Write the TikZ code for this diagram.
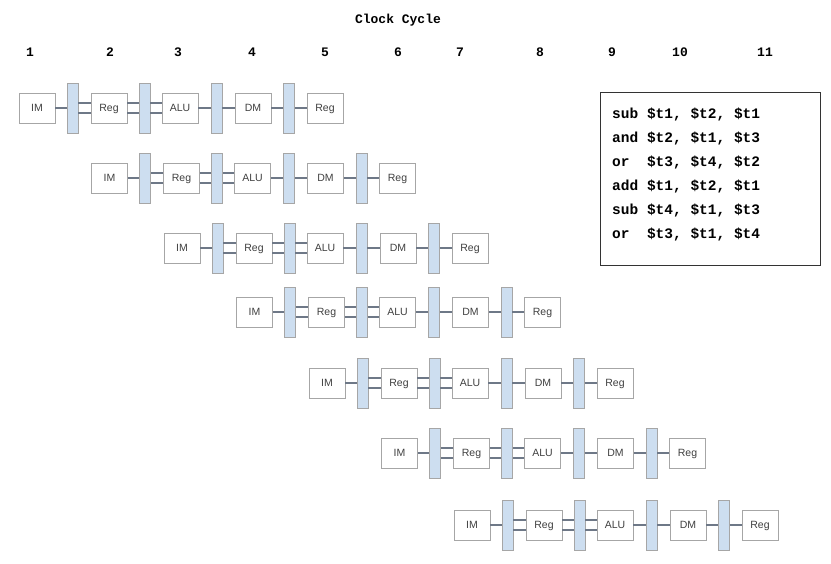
\documentclass[tikz,border=0pt]{standalone}
\usepackage{fontspec}
\setmainfont{Liberation Sans}
\newfontfamily\mono{Liberation Mono}
\begin{document}
\begin{tikzpicture}[x=1pt,y=-1pt,
  box/.style={draw=gray!70,line width=0.8pt,fill=white,minimum width=36pt,minimum height=30pt,inner sep=0pt,text height=7.5pt,text depth=0pt,font=\fontsize{10.5}{10.5}\selectfont,text=black!75},
  bar/.style={draw=gray!70,line width=0.8pt,fill={rgb,255:red,205;green,222;blue,240},minimum width=11pt,minimum height=50pt,inner sep=0pt},
  wire/.style={draw={rgb,255:red,110;green,120;blue,135},line width=1.1pt},
  hdr/.style={font=\mono\bfseries\fontsize{13}{13}\selectfont}]
\useasboundingbox (0,0) rectangle (831,564);
\node[hdr] at (398,20) {Clock Cycle};
\foreach \n/\x in {1/30,2/110,3/178,4/252,5/325,6/398,7/460,8/540,9/612,10/680,11/765}
  \node[hdr] (h\n) at (\x,52) {\n};
\foreach \r/\y in {0/108,1/178,2/248,3/312,4/383,5/453,6/525}{
  \pgfmathsetmacro{\xo}{37+72.5*\r}
  \begin{scope}[shift={(\xo,\y)}]
  \node[box] (im\r) at (0,0) {IM};
  \node[bar] (b1\r) at (35.5,0) {};
  \node[box] (rg\r) at (72,0) {Reg};
  \node[bar] (b2\r) at (107.5,0) {};
  \node[box] (al\r) at (143,0) {ALU};
  \node[bar] (b3\r) at (179.5,0) {};
  \node[box] (dm\r) at (216,0) {DM};
  \node[bar] (b4\r) at (252,0) {};
  \node[box] (wb\r) at (288,0) {Reg};
  \draw[wire] (im\r) -- (b1\r);
  \draw[wire] ([yshift=-5pt]b1\r.east) -- ([yshift=-5pt]rg\r.west);
  \draw[wire] ([yshift=5pt]b1\r.east) -- ([yshift=5pt]rg\r.west);
  \draw[wire] ([yshift=-5pt]rg\r.east) -- ([yshift=-5pt]b2\r.west);
  \draw[wire] ([yshift=5pt]rg\r.east) -- ([yshift=5pt]b2\r.west);
  \draw[wire] ([yshift=-5pt]b2\r.east) -- ([yshift=-5pt]al\r.west);
  \draw[wire] ([yshift=5pt]b2\r.east) -- ([yshift=5pt]al\r.west);
  \draw[wire] (al\r) -- (b3\r);
  \draw[wire] (b3\r) -- (dm\r);
  \draw[wire] (dm\r) -- (b4\r);
  \draw[wire] (b4\r) -- (wb\r);
  \end{scope}
}
\draw[black!80,line width=0.8pt] (600,92) rectangle (820,265);
\node[anchor=north west,align=left,inner sep=0pt,font=\mono\bfseries\fontsize{14.5}{24}\selectfont] (code) at (612,108) {sub \$t1, \$t2, \$t1\\and \$t2, \$t1, \$t3\\or~~\$t3, \$t4, \$t2\\add \$t1, \$t2, \$t1\\sub \$t4, \$t1, \$t3\\or~~\$t3, \$t1, \$t4};
\end{tikzpicture}
\end{document}
